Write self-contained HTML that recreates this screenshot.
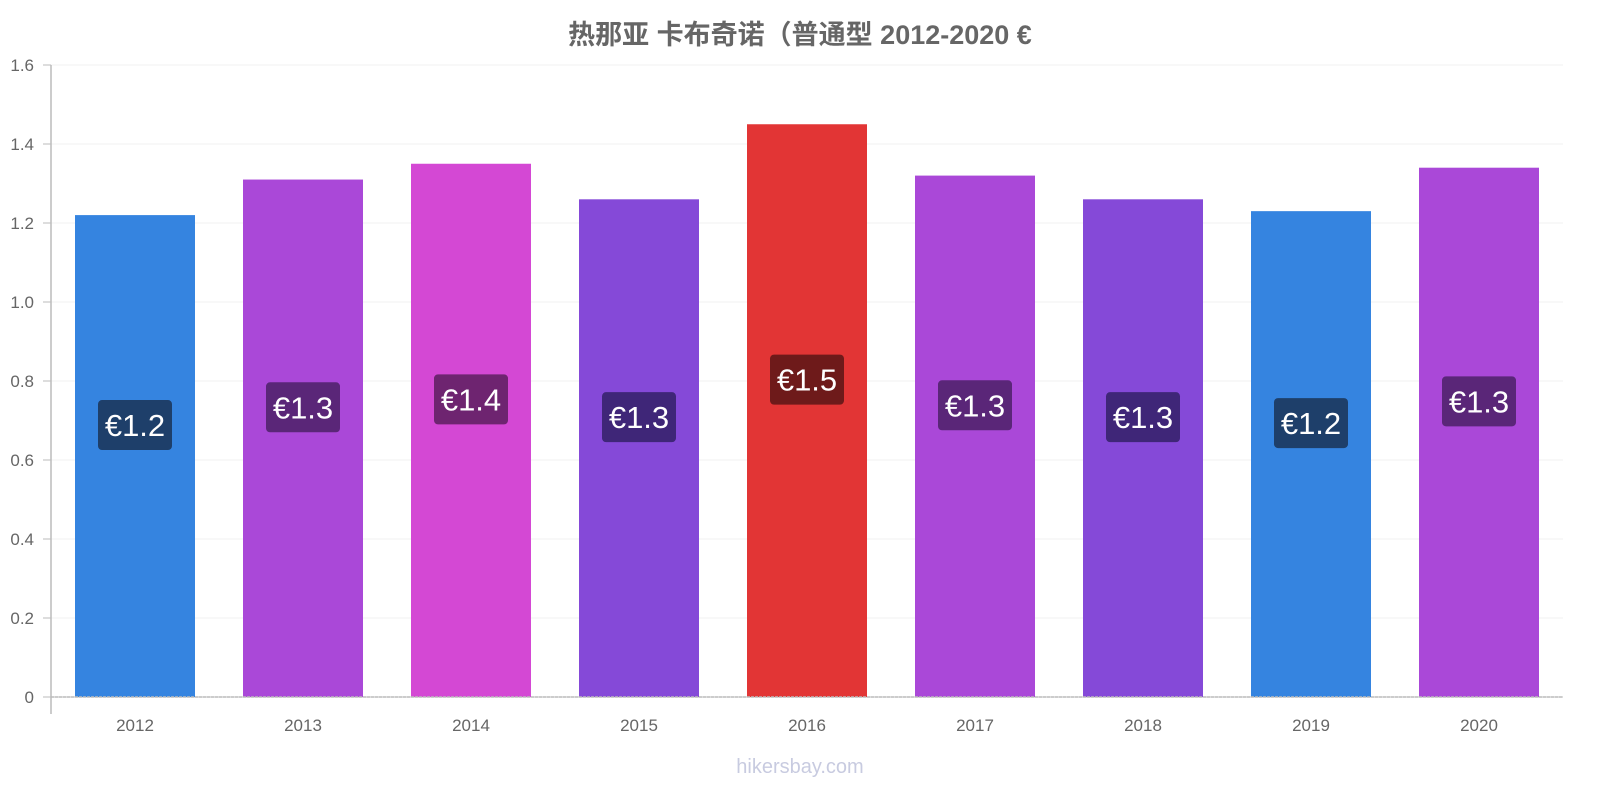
<!DOCTYPE html>
<html><head><meta charset="utf-8"><style>
body{margin:0;background:#fff;}
svg{display:block;font-family:"Liberation Sans","Noto Sans CJK SC",sans-serif;}
</style></head><body>
<svg id="c" width="1600" height="800">
<text x="800" y="44" text-anchor="middle" font-size="27" font-weight="bold" fill="#666">热那亚 卡布奇诺（普通型 2012-2020 €</text>
<text x="800" y="773" text-anchor="middle" font-size="20" fill="#c8cbe0">hikersbay.com</text>
</svg>
<script>
const categories=["2012","2013","2014","2015","2016","2017","2018","2019","2020"];
const values=[1.22,1.31,1.35,1.26,1.45,1.32,1.26,1.23,1.34];
const labels=["€1.2","€1.3","€1.4","€1.3","€1.5","€1.3","€1.3","€1.2","€1.3"];
const yTicks=[0,0.2,0.4,0.6,0.8,1.0,1.2,1.4,1.6];
const yTickLabels=["0","0.2","0.4","0.6","0.8","1.0","1.2","1.4","1.6"];
const colors=["#3584e0","#aa48d8","#d448d4","#8549d8","#e23535","#aa48d8","#8549d8","#3584e0","#aa48d8"];
const labelBg=["#1e3f6a","#5a2678","#6e2470","#3f2678","#6e1a1a","#5a2678","#3f2678","#1e3f6a","#5a2678"];
const svg=document.getElementById('c');const NS='http://www.w3.org/2000/svg';
const L=51,R=1563,T=65,B=697,yMax=1.6;
const y=v=>B-(v/yMax)*(B-T);
const bw=(R-L)/categories.length;
const x=i=>L+bw*i+bw/2;
function mk(t,a,p){const e=document.createElementNS(NS,t);for(const k in a)e.setAttribute(k,a[k]);(p||svg).appendChild(e);return e;}
yTicks.forEach((v,i)=>{
 const g=mk('line',{x1:L,x2:R,y1:y(v),y2:y(v),stroke:i==0?'#bbb':'#f0f0f0','stroke-width':1});
 
 
 const t=mk('text',{x:34,y:y(v)+6,'text-anchor':'end','font-size':17,fill:'#666'});t.textContent=yTickLabels[i];
 
 
 mk('line',{x1:L-8,x2:L,y1:y(v),y2:y(v),stroke:'#bbb'});
});
const ax=mk('line',{x1:L,x2:L,y1:T,y2:B+17,stroke:'#bbb','stroke-width':1.5});


values.forEach((v,i)=>{
 const r=mk('rect',{x:x(i)-60,y:y(v),width:120,height:B-y(v),fill:colors[i]});
 
 
 const cy=(y(v)+B)/2-31;
 const bg=mk('rect',{x:x(i)-37,y:cy-25,width:74,height:50,rx:4,fill:labelBg[i]});
 
 
 const t=mk('text',{x:x(i),y:cy+11,'text-anchor':'middle','font-size':31,fill:'#fff'});t.textContent=labels[i];
 
 
 const c=mk('text',{x:x(i),y:731,'text-anchor':'middle','font-size':17,fill:'#666'});c.textContent=categories[i];
 
 
});
mk('line',{x1:L,x2:R,y1:B,y2:B,stroke:'#bbb','stroke-width':1.5,'stroke-dasharray':'3,1'});
</script>
</body></html>
